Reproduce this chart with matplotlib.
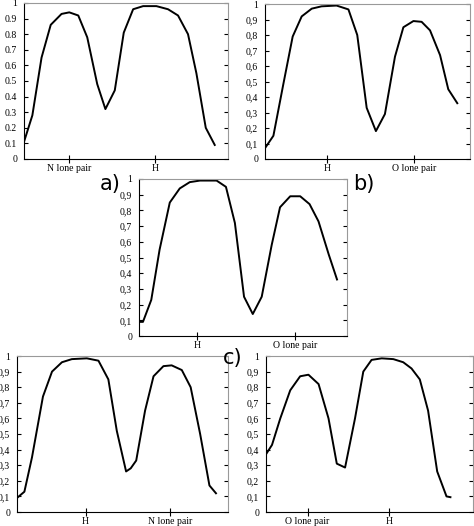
import matplotlib
matplotlib.use("Agg")
import matplotlib.pyplot as plt

# panel a
xa = [0,4.1,8.6,13.1,18.4,22.2,26.6,31,35.9,39.9,44.5,48.9,53.5,58.4,64.9,70.6,75.5,80.4,84.5,89.1,93.5]
ya = [0.11,0.28,0.65,0.86,0.93,0.94,0.92,0.78,0.48,0.32,0.44,0.81,0.96,0.98,0.98,0.96,0.92,0.80,0.55,0.20,0.09]
ta = [22.2, 64.4]; la = ["N lone pair", "H"]
# panel b
xb = [0,4.1,8.9,13.5,17.9,22.8,27.6,34.9,40.7,45.0,49.6,54.1,58.5,63.4,67.5,72.4,76.4,80.5,85.4,89.4,93.8]
yb = [0.07,0.15,0.48,0.79,0.92,0.97,0.985,0.99,0.965,0.80,0.33,0.18,0.29,0.66,0.85,0.89,0.885,0.83,0.67,0.45,0.36]
tb = [30.4, 72.8]; lb = ["H", "O lone pair"]
# middle panel
xm = [0,1.9,5.9,9.9,14.8,19.6,24.4,29.3,37.3,41.8,46.1,50.5,54.7,59.0,63.8,67.8,72.7,77.5,82.0,86.3,91.2,95.2]
ym = [0.09,0.09,0.23,0.55,0.85,0.94,0.98,0.99,0.99,0.95,0.72,0.25,0.14,0.25,0.58,0.82,0.89,0.89,0.84,0.73,0.52,0.36]
tm = [28.0, 75.1]; lm = ["H", "O lone pair"]
# bottom left
xl = [0,3.5,7.1,12.3,16.6,21.3,26.0,33.1,38.6,43.3,47.3,51.7,53.9,56.5,60.7,64.7,69.4,73.3,78.1,82.3,86.8,91.2,94.3]
yl = [0.09,0.13,0.35,0.74,0.90,0.96,0.98,0.985,0.97,0.85,0.52,0.26,0.28,0.33,0.65,0.87,0.935,0.94,0.91,0.80,0.50,0.17,0.12]
tl = [32.5, 72.7]; ll = ["H", "N lone pair"]
# bottom right
xr = [0,2.9,6.9,11.7,16.5,20.5,25.4,30.2,34.2,38.2,43.0,47.0,51.0,55.9,61.5,66.3,70.3,74.3,78.3,82.7,87.2,89.1]
yr = [0.37,0.43,0.60,0.78,0.87,0.88,0.82,0.60,0.31,0.285,0.60,0.90,0.975,0.985,0.98,0.96,0.92,0.85,0.65,0.26,0.10,0.095]
tr = [20.1, 59.4]; lr = ["O lone pair", "H"]

yticks = [i/10 for i in range(11)]
ylabels_dot = ["0"] + ["0.%d" % i for i in range(1, 10)] + ["1"]
ylabels_com = ["0"] + ["0,%d" % i for i in range(1, 10)] + ["1"]

W, H = 474, 526
fig = plt.figure(figsize=(W/100, H/100), dpi=100)

def panel(l, r, t, b, x, y, ticks, labels, ylab):
    ax = fig.add_axes([l/W, 1-b/H, (r-l)/W, (b-t)/H])
    ax.plot(x, y, color="black", lw=1.4)
    ax.set_xlim(0, 100)
    ax.set_ylim(0, 1)
    ax.set_xticks(ticks)
    ax.set_xticklabels(labels, family="Liberation Serif", fontsize=7)
    ax.set_yticks(yticks)
    ax.set_yticklabels(ylab, family="Liberation Serif", fontsize=7)
    ax.tick_params(axis="y", direction="in", right=True, length=3, width=0.8, pad=5)
    ax.tick_params(axis="x", direction="inout", length=6, width=0.8, pad=0.5)
    for s in ["top", "right"]:
        ax.spines[s].set_color("#999999")
    for s in ["left", "bottom"]:
        ax.spines[s].set_color("black")
    return ax

panel(24, 228, 3, 159, xa, ya, ta, la, ylabels_dot)
panel(265, 470, 4, 159, xb, yb, tb, lb, ylabels_com)
panel(139, 347, 179, 336, xm, ym, tm, lm, ylabels_com)
panel(17, 228, 356, 512, xl, yl, tl, ll, ylabels_com)
panel(266, 473, 356, 512, xr, yr, tr, lr, ylabels_com)

fig.text(110/W, 1-184/H, "a)", fontsize=15, ha="center", va="center")
fig.text(364/W, 1-184/H, "b)", fontsize=15, ha="center", va="center")
fig.text(233/W, 1-358/H, "c)", fontsize=15, ha="center", va="center")

fig.savefig("out.png", dpi=100)
